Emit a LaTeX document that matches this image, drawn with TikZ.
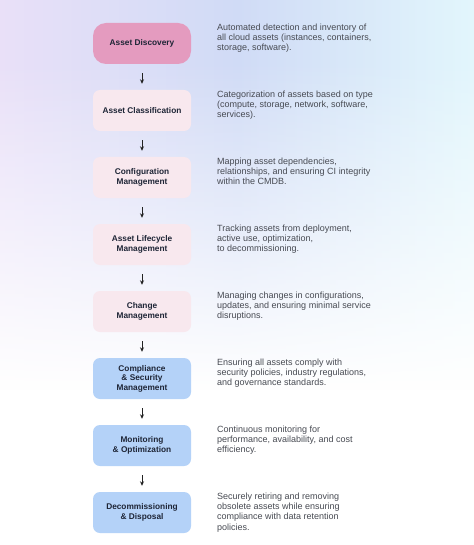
\documentclass[tikz,border=0pt]{standalone}
\usepackage{fontspec}
\setmainfont{Liberation Sans}
\usetikzlibrary{arrows.meta,fadings}
\definecolor{bgL}{HTML}{E9E0F8}
\definecolor{bgM}{HTML}{D0DBF6}
\definecolor{bgR}{HTML}{E2F6FC}
\definecolor{pinkA}{HTML}{E49BBF}
\definecolor{pinkL}{HTML}{F8E8EE}
\definecolor{blueL}{HTML}{B4D2F8}
\definecolor{labelc}{HTML}{1E2536}
\definecolor{descc}{HTML}{474A52}
\definecolor{arrowc}{HTML}{222222}
\tikzfading[name=fadedown, top color=transparent!100, bottom color=transparent!0]
\tikzset{
  stagebox/.style={rounded corners=7bp, minimum width=98bp, minimum height=41bp,
    inner sep=0pt, align=center, text=labelc,
    font=\fontsize{8.3bp}{9.6bp}\selectfont\bfseries},
  firstbox/.style={stagebox, fill=pinkA, rounded corners=13bp},
  pinkbox/.style={stagebox, fill=pinkL},
  bluebox/.style={stagebox, fill=blueL},
  desc/.style={anchor=north west, inner sep=0pt, align=left, text=descc,
    font=\fontsize{9bp}{10.3bp}\selectfont},
  flow/.style={draw=arrowc, line width=0.8pt, -{Stealth[length=4.5bp,width=4bp]},
    shorten <=9bp, shorten >=6bp}
}
\begin{document}
\begin{tikzpicture}[x=1bp,y=-1bp]
\useasboundingbox (0,0) rectangle (474,545);
% background
\shade[left color=bgL, right color=bgR, middle color=bgM] (0,0) rectangle (474,545);
\fill[white, path fading=fadedown] (0,60) rectangle (474,390);
\fill[white] (0,389.5) rectangle (474,545);
% stages
\node[firstbox] (s1) at (142,43.5) {Asset Discovery};
\node[pinkbox]  (s2) at (142,110.5) {Asset Classification};
\node[pinkbox]  (s3) at (142,177.5) {Configuration\\Management};
\node[pinkbox]  (s4) at (142,244.5) {Asset Lifecycle\\Management};
\node[pinkbox]  (s5) at (142,311.5) {Change\\Management};
\node[bluebox]  (s6) at (142,378.5) {Compliance\\\& Security\\Management};
\node[bluebox]  (s7) at (142,445.5) {Monitoring\\\& Optimization};
\node[bluebox]  (s8) at (142,512.5) {Decommissioning\\\& Disposal};
% arrows
\draw[flow] (s1) -- (s2);
\draw[flow] (s2) -- (s3);
\draw[flow] (s3) -- (s4);
\draw[flow] (s4) -- (s5);
\draw[flow] (s5) -- (s6);
\draw[flow] (s6) -- (s7);
\draw[flow] (s7) -- (s8);
% descriptions
\node[desc] (d1) at (217,23.5) {Automated detection and inventory of\\all cloud assets (instances, containers,\\storage, software).};
\node[desc] (d2) at (217,90.5) {Categorization of assets based on type\\(compute, storage, network, software,\\services).};
\node[desc] (d3) at (217,157.5) {Mapping asset dependencies,\\relationships, and ensuring CI integrity\\within the CMDB.};
\node[desc] (d4) at (217,224.5) {Tracking assets from deployment,\\active use, optimization,\\to decommissioning.};
\node[desc] (d5) at (217,291.5) {Managing changes in configurations,\\updates, and ensuring minimal service\\disruptions.};
\node[desc] (d6) at (217,358.5) {Ensuring all assets comply with\\security policies, industry regulations,\\and governance standards.};
\node[desc] (d7) at (217,425.5) {Continuous monitoring for\\performance, availability, and cost\\efficiency.};
\node[desc] (d8) at (217,492.5) {Securely retiring and removing\\obsolete assets while ensuring\\compliance with data retention\\policies.};
\end{tikzpicture}
\end{document}
